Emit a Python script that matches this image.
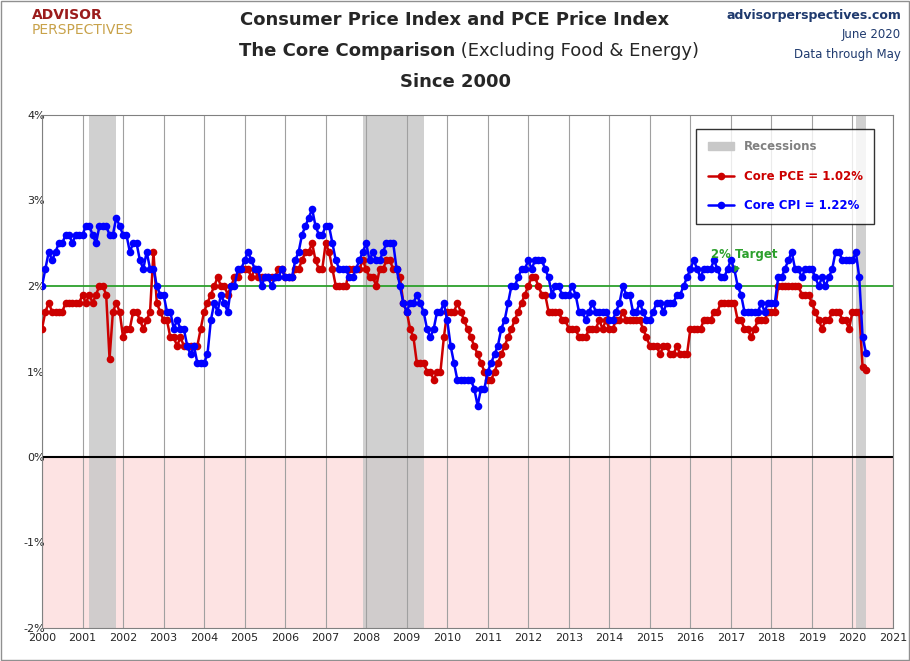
import numpy as np, pandas as pd, matplotlib
matplotlib.use("Agg")
import matplotlib.pyplot as plt, seaborn as sns

cpi = [2.0,2.2,2.4,2.3,2.4,2.5,2.5,2.6,2.6,2.5,2.6,2.6,
2.6,2.7,2.7,2.6,2.5,2.7,2.7,2.7,2.6,2.6,2.8,2.7,
2.6,2.6,2.4,2.5,2.5,2.3,2.2,2.4,2.2,2.2,2.0,1.9,
1.9,1.7,1.7,1.5,1.6,1.5,1.5,1.3,1.2,1.3,1.1,1.1,
1.1,1.2,1.6,1.8,1.7,1.9,1.8,1.7,2.0,2.0,2.2,2.2,
2.3,2.4,2.3,2.2,2.2,2.0,2.1,2.1,2.0,2.1,2.1,2.2,
2.1,2.1,2.1,2.3,2.4,2.6,2.7,2.8,2.9,2.7,2.6,2.6,
2.7,2.7,2.5,2.3,2.2,2.2,2.2,2.1,2.1,2.2,2.3,2.4,
2.5,2.3,2.4,2.3,2.3,2.4,2.5,2.5,2.5,2.2,2.0,1.8,
1.7,1.8,1.8,1.9,1.8,1.7,1.5,1.4,1.5,1.7,1.7,1.8,
1.6,1.3,1.1,0.9,0.9,0.9,0.9,0.9,0.8,0.6,0.8,0.8,
1.0,1.1,1.2,1.3,1.5,1.6,1.8,2.0,2.0,2.1,2.2,2.2,
2.3,2.2,2.3,2.3,2.3,2.2,2.1,1.9,2.0,2.0,1.9,1.9,
1.9,2.0,1.9,1.7,1.7,1.6,1.7,1.8,1.7,1.7,1.7,1.7,
1.6,1.6,1.7,1.8,2.0,1.9,1.9,1.7,1.7,1.8,1.7,1.6,
1.6,1.7,1.8,1.8,1.7,1.8,1.8,1.8,1.9,1.9,2.0,2.1,
2.2,2.3,2.2,2.1,2.2,2.2,2.2,2.3,2.2,2.1,2.1,2.2,
2.3,2.2,2.0,1.9,1.7,1.7,1.7,1.7,1.7,1.8,1.7,1.8,
1.8,1.8,2.1,2.1,2.2,2.3,2.4,2.2,2.2,2.1,2.2,2.2,
2.2,2.1,2.0,2.1,2.0,2.1,2.2,2.4,2.4,2.3,2.3,2.3,
2.3,2.4,2.1,1.4,1.22]
pce = [1.5,1.7,1.8,1.7,1.7,1.7,1.7,1.8,1.8,1.8,1.8,1.8,
1.9,1.8,1.9,1.8,1.9,2.0,2.0,1.9,1.15,1.7,1.8,1.7,
1.4,1.5,1.5,1.7,1.7,1.6,1.5,1.6,1.7,2.4,1.8,1.7,
1.6,1.6,1.4,1.4,1.3,1.4,1.3,1.3,1.3,1.3,1.3,1.5,
1.7,1.8,1.9,2.0,2.1,2.0,2.0,1.9,2.0,2.1,2.1,2.2,
2.2,2.2,2.1,2.2,2.1,2.1,2.1,2.1,2.1,2.1,2.2,2.2,
2.1,2.1,2.1,2.2,2.2,2.3,2.4,2.4,2.5,2.3,2.2,2.2,
2.5,2.4,2.2,2.0,2.0,2.0,2.0,2.2,2.2,2.2,2.2,2.3,
2.2,2.1,2.1,2.0,2.2,2.2,2.3,2.3,2.2,2.2,2.1,1.8,
1.7,1.5,1.4,1.1,1.1,1.1,1.0,1.0,0.9,1.0,1.0,1.4,
1.7,1.7,1.7,1.8,1.7,1.6,1.5,1.4,1.3,1.2,1.1,1.0,
0.9,0.9,1.0,1.1,1.2,1.3,1.4,1.5,1.6,1.7,1.8,1.9,
2.0,2.1,2.1,2.0,1.9,1.9,1.7,1.7,1.7,1.7,1.6,1.6,
1.5,1.5,1.5,1.4,1.4,1.4,1.5,1.5,1.5,1.6,1.5,1.6,
1.5,1.5,1.6,1.6,1.7,1.6,1.6,1.6,1.6,1.6,1.5,1.4,
1.3,1.3,1.3,1.2,1.3,1.3,1.2,1.2,1.3,1.2,1.2,1.2,
1.5,1.5,1.5,1.5,1.6,1.6,1.6,1.7,1.7,1.8,1.8,1.8,
1.8,1.8,1.6,1.6,1.5,1.5,1.4,1.5,1.6,1.6,1.6,1.7,
1.7,1.7,2.0,2.0,2.0,2.0,2.0,2.0,2.0,1.9,1.9,1.9,
1.8,1.7,1.6,1.5,1.6,1.6,1.7,1.7,1.7,1.6,1.6,1.5,
1.7,1.7,1.7,1.05,1.02]
recessions = [(2001+2/12, 2001+10/12), (2007+11/12, 2009+5/12), (2020+1/12, 2020+4/12)]
years = list(range(2000, 2022))

n = len(cpi)
x = [2000 + i/12 for i in range(n)]
df = pd.DataFrame({"x": x*2, "v": pce+cpi,
                   "s": ["Core PCE = 1.02%"]*n + ["Core CPI = 1.22%"]*n})

sns.set_style("white")
fig = plt.figure(figsize=(9.1, 6.61), dpi=100)
ax = fig.add_axes([42/910, 1-628/661, (893-42)/910, (628-115)/661])
ax.axhspan(-2, 0, color="#fde3e3", zorder=0)
for a, b in recessions:
    ax.axvspan(a, b, color="#c8c8c8", alpha=0.85, zorder=1, lw=0)
for yv in years:
    ax.axvline(yv, color="#a0a0a0", lw=0.8, zorder=1)
ax.axhline(0, color="black", lw=1.5, zorder=2)
ax.axhline(2, color="#2ca02c", lw=1.3, zorder=2)
sns.lineplot(data=df, x="x", y="v", hue="s", palette=["#cc0000", "#0000ff"],
             marker="o", markersize=5.5, markeredgewidth=0, lw=1.8, ax=ax, zorder=3)
ax.set_xlim(2000, 2021); ax.set_ylim(-2, 4)
ax.set_xticks(years); ax.set_xticklabels([str(y) for y in years], fontsize=8)
ax.set_yticks(range(-2, 5)); ax.set_yticklabels([f"{v}%" for v in range(-2, 5)], fontsize=8)
ax.tick_params(axis="y", pad=-2, length=0); ax.tick_params(axis="x", length=0)
for lab in ax.get_yticklabels():
    lab.set_horizontalalignment("right")
ax.set_xlabel(""); ax.set_ylabel("")
for s in ax.spines.values():
    s.set_color("#808080"); s.set_linewidth(0.8)
ax.annotate("2% Target", xy=(2017.05, 2.13), xytext=(2016.5, 2.33), fontsize=8.5,
            color="#2ca02c", fontweight="bold",
            arrowprops=dict(arrowstyle="-|>", color="#2ca02c", lw=0.8))
h, l = ax.get_legend_handles_labels()
from matplotlib.patches import Patch
leg = ax.legend([Patch(color="#c8c8c8")] + h, ["Recessions"] + l, loc="upper right",
                bbox_to_anchor=(0.985, 0.985), fontsize=8.5, frameon=True, fancybox=False,
                edgecolor="black", borderpad=1.0, labelspacing=1.4, handlelength=2.2)
for t, c in zip(leg.get_texts(), ["#808080", "#cc0000", "#0000ff"]):
    t.set_color(c); t.set_fontweight("bold")
fig.text(0.5, 0.962, "Consumer Price Index and PCE Price Index", ha="center", fontsize=13, fontweight="bold")
fig.text(0.5, 0.915, "The Core Comparison", ha="right", fontsize=13, fontweight="bold")
fig.text(0.5, 0.915, " (Excluding Food & Energy)", ha="left", fontsize=13)
fig.text(0.5, 0.868, "Since 2000", ha="center", fontsize=13, fontweight="bold")
fig.text(0.99, 0.972, "advisorperspectives.com", ha="right", fontsize=9, color="#1f3a6e", fontweight="bold")
fig.text(0.99, 0.942, "June 2020", ha="right", fontsize=8.5, color="#1f3a6e")
fig.text(0.99, 0.912, "Data through May", ha="right", fontsize=8.5, color="#1f3a6e")
fig.text(0.035, 0.972, "ADVISOR", fontsize=10, color="#9b1c1c", fontweight="bold")
fig.text(0.035, 0.948, "PERSPECTIVES", fontsize=10, color="#c8a24a")
fig.patches.append(plt.Rectangle((0.001, 0.001), 0.998, 0.998, transform=fig.transFigure,
                                 fill=False, edgecolor="#909090", lw=1))
fig.savefig("out.png", dpi=100)
